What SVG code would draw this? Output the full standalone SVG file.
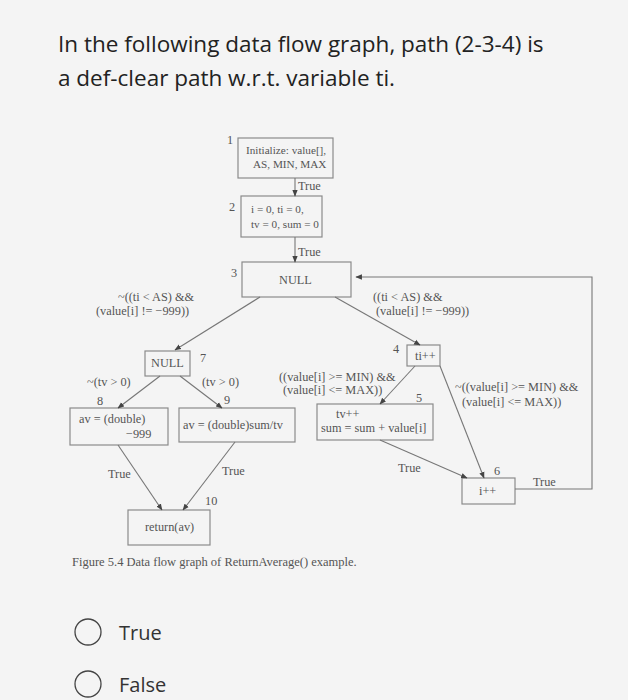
<svg xmlns="http://www.w3.org/2000/svg" width="628" height="700" viewBox="0 0 628 700">
<defs>
<style>
.b{fill:none;stroke:#8a8a8a;stroke-width:1.2}
.e{fill:none;stroke:#777;stroke-width:1.1;marker-end:url(#a)}
.t{font-family:"Liberation Serif",serif;font-size:12.3px;fill:#555}
.s{font-size:11.2px}
.h{font-family:"Open Sans","Noto Sans",sans-serif;font-size:22.5px;fill:#222}
.o{font-family:"Open Sans","Noto Sans",sans-serif;font-size:20px;fill:#333}
</style>
<marker id="a" viewBox="0 0 10 10" refX="9" refY="5" markerWidth="6" markerHeight="6" orient="auto"><path d="M0,1L10,5L0,9z" fill="#444"/></marker>
</defs>
<rect width="628" height="700" fill="#f4f4f4"/>
<text class="h" x="58" y="52">In the following data flow graph, path (2-3-4) is</text>
<text class="h" x="58" y="86">a def-clear path w.r.t. variable ti.</text>
<g id="n1"><rect class="b" x="238" y="138" width="95" height="40"/><text class="t" x="227" y="144">1</text><text class="t s" x="246" y="154">Initialize: value[],</text><text class="t s" x="253" y="168">AS, MIN, MAX</text></g>
<g id="n2"><rect class="b" x="241" y="196" width="81" height="41"/><text class="t" x="229" y="211">2</text><text class="t s" x="251" y="213">i = 0, ti = 0,</text><text class="t s" x="251" y="228">tv = 0, sum = 0</text></g>
<g id="n3"><rect class="b" x="242" y="262" width="109" height="35"/><text class="t" x="231" y="277">3</text><text class="t" x="279" y="284">NULL</text></g>
<g id="n4"><rect class="b" x="407" y="345" width="33" height="21"/><text class="t" x="393" y="353">4</text><text class="t" x="415" y="360">ti++</text></g>
<g id="n5"><rect class="b" x="317" y="404" width="116" height="36"/><text class="t" x="336" y="418">tv++</text><text class="t" x="321" y="432">sum = sum + value[i]</text><text class="t" x="416" y="402">5</text></g>
<g id="n6"><rect class="b" x="462" y="478" width="53" height="26"/><text class="t" x="494" y="475">6</text><text class="t" x="479" y="495">i++</text></g>
<g id="n7"><rect class="b" x="145" y="351" width="45" height="25"/><text class="t" x="200" y="362">7</text><text class="t" x="151" y="367">NULL</text></g>
<g id="n8"><rect class="b" x="70" y="408" width="98" height="37"/><text class="t" x="97" y="405">8</text><text class="t" x="79" y="423">av = (double)</text><text class="t" x="126" y="438">−999</text></g>
<g id="n9"><rect class="b" x="179" y="408" width="116" height="34"/><text class="t" x="224" y="404">9</text><text class="t" x="183" y="429">av = (double)sum/tv</text></g>
<g id="n10"><rect class="b" x="128" y="510" width="82" height="35"/><text class="t" x="205" y="505">10</text><text class="t" x="145" y="531">return(av)</text></g>
<g id="edges">
<path class="e" d="M295,178V196"/><text class="t" x="298" y="190">True</text>
<path class="e" d="M295,237V262"/><text class="t" x="298" y="256">True</text>
<path class="e" d="M260,297L175,350"/><text class="t" x="118" y="301">~((ti &lt; AS) &amp;&amp;</text><text class="t" x="96" y="315">(value[i] != −999))</text>
<path class="e" d="M335,297L420,345"/><text class="t" x="373" y="301">((ti &lt; AS) &amp;&amp;</text><text class="t" x="376" y="315">(value[i] != −999))</text>
<path class="e" d="M160,376L118,408"/><text class="t" x="87" y="386">~(tv &gt; 0)</text>
<path class="e" d="M180,376L222,408"/><text class="t" x="202" y="386">(tv &gt; 0)</text>
<path class="e" d="M118,445L162,510"/><text class="t" x="108" y="478">True</text>
<path class="e" d="M235,442L183,510"/><text class="t" x="222" y="475">True</text>
<path class="e" d="M415,366L380,404"/><text class="t" x="279" y="381">((value[i] &gt;= MIN) &amp;&amp;</text><text class="t" x="283" y="394">(value[i] &lt;= MAX))</text>
<path class="e" d="M440,366L484,478"/><text class="t" x="455" y="391">~((value[i] &gt;= MIN) &amp;&amp;</text><text class="t" x="462" y="406">(value[i] &lt;= MAX))</text>
<path class="e" d="M380,440L467,478"/><text class="t" x="398" y="472">True</text>
<path class="e" d="M515,489H592V277H356"/><text class="t" x="533" y="486">True</text>
</g>
<text class="t" x="72" y="566" style="font-size:12.5px">Figure 5.4   Data flow graph of ReturnAverage() example.</text>
<circle cx="88" cy="632" r="13" fill="none" stroke="#444" stroke-width="1.3"/><text class="o" x="119" y="640">True</text>
<circle cx="88" cy="684" r="13" fill="none" stroke="#444" stroke-width="1.3"/><text class="o" x="119" y="692">False</text>
</svg>
